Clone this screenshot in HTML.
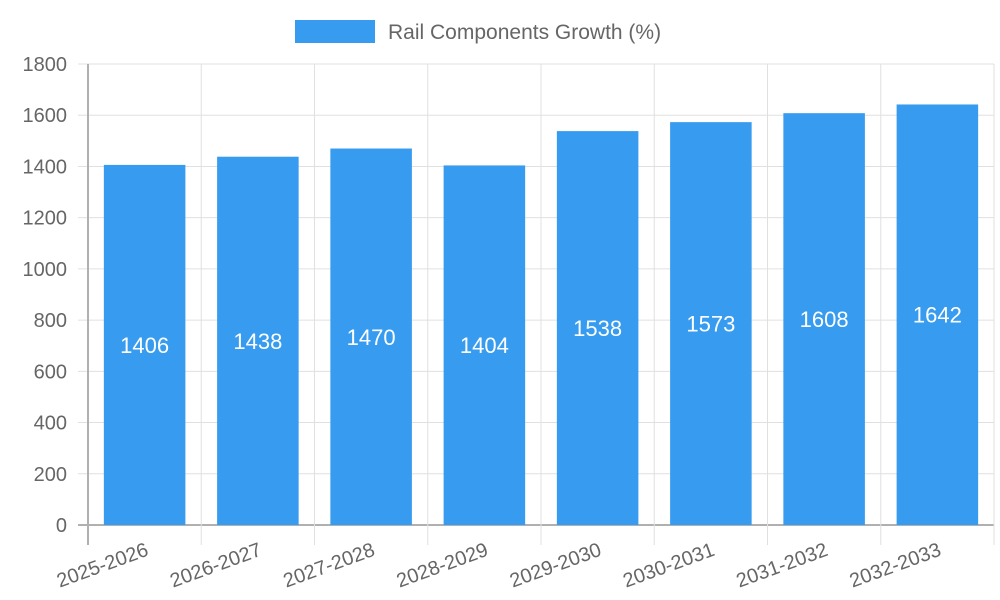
<!DOCTYPE html>
<html><head><meta charset="utf-8"><style>
body{margin:0;background:#fff;}
svg{display:block;font-family:"Liberation Sans",sans-serif;}
</style></head><body>
<svg id="chart" width="1000" height="600"></svg>
<script>
const categories=["2025-2026","2026-2027","2027-2028","2028-2029","2029-2030","2030-2031","2031-2032","2032-2033"];
const values=[1406,1438,1470,1404,1538,1573,1608,1642];
const yTicks=[0,200,400,600,800,1000,1200,1400,1600,1800];
const seriesName="Rail Components Growth (%)";
const NS="http://www.w3.org/2000/svg";
const svg=document.getElementById('chart');
const L=88,R=994,T=64,B=525,YMAX=1800;
const cw=(R-L)/categories.length;
const y=v=>B-(v/YMAX)*(B-T);
const xc=i=>L+cw*(i+0.5);
function mk(tag,attrs,parent){const e=document.createElementNS(NS,tag);for(const k in attrs)e.setAttribute(k,attrs[k]);(parent||svg).appendChild(e);return e;}
const grid=mk('g',{});


yTicks.forEach(v=>{
  const l=mk('line',{x1:78,x2:R,y1:y(v),y2:y(v),stroke:v===0?'#b0b0b0':'#e0e0e0','stroke-width':v===0?2:1},grid);
  
  
  const t=mk('text',{x:67,y:y(v)+7,'text-anchor':'end','font-size':20,fill:'#666'});
  t.textContent=v;
  
  
});
for(let i=0;i<=categories.length;i++){
  const x=L+cw*i;
  const l=mk('line',{x1:x,x2:x,y1:T,y2:545,stroke:i===0?'#b0b0b0':'#e0e0e0','stroke-width':i===0?2:1},grid);
  
  
}
const bw=cw*0.72;
values.forEach((v,i)=>{
  const r=mk('rect',{x:xc(i)-bw/2,y:y(v),width:bw,height:B-y(v),fill:'#379cef'});
  
  
  const t=mk('text',{x:xc(i),y:(y(v)+B)/2+8,'text-anchor':'middle','font-size':22,fill:'#fff'});
  t.textContent=v;
  
  
  const xl=mk('text',{x:0,y:0,'text-anchor':'end','font-size':20,fill:'#666',transform:`translate(${xc(i)+5},${555}) rotate(-20)`});
  xl.textContent=categories[i];
  
  
});
const lg=mk('g',{});


mk('rect',{x:295,y:20,width:80,height:23,fill:'#379cef'},lg);
const lt=mk('text',{x:388,y:39,'font-size':21,fill:'#666'},lg);
lt.textContent=seriesName;
</script>
</body></html>
